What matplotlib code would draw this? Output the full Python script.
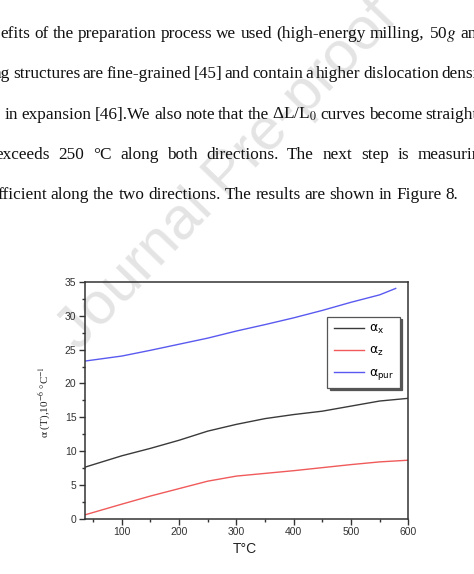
import matplotlib
matplotlib.use("Agg")
import matplotlib.pyplot as plt
from matplotlib.ticker import MultipleLocator

# ---------------- data ----------------
T = [35, 100, 150, 200, 250, 300, 350, 400, 450, 500, 550, 600]
alpha_x = [7.6, 9.3, 10.4, 11.6, 12.95, 13.95, 14.8, 15.4, 15.9, 16.65, 17.4, 17.8]
alpha_z = [0.55, 2.15, 3.35, 4.45, 5.55, 6.3, 6.7, 7.1, 7.55, 8.0, 8.4, 8.65]
T_pur = [35, 100, 150, 200, 250, 300, 350, 400, 450, 500, 550, 578]
alpha_pur = [23.3, 24.05, 24.9, 25.8, 26.7, 27.75, 28.7, 29.7, 30.8, 32.0, 33.1, 34.05]
labels = [r'$\mathrm{\alpha}_\mathrm{x}$', r'$\mathrm{\alpha}_\mathrm{z}$', r'$\mathrm{\alpha}_\mathrm{pur}$']
x_ticks = [100, 200, 300, 400, 500, 600]
y_ticks = [0, 5, 10, 15, 20, 25, 30, 35]

# (line text, left x of first word, index of anchor word, right x of anchor word, baseline y)
paragraph = [
    (r"efits of the preparation process we used (high-energy milling, 50$g$ and", 0, 9, 456, 38),
    ("ng structures are fine-grained [45] and contain a higher dislocation density", -7.0, 9, 439, 78),
    (r"in expansion [46].We also note that the ΔL/L$_0$ curves become straight", 5, 9, 422, 119),
    ("exceeds 250 °C along both directions. The next step is measuring the", -4.5, 9, 409, 159),
    ("fficient along the two directions. The results are shown in Figure 8.", -3, 11, 458, 199),
]

W, H = 474, 574
fig = plt.figure(figsize=(W / 100, H / 100), dpi=100)
fig.patch.set_facecolor("white")

# watermark
fig.text(228 / W, 1 - 175 / H, "Journal Pre-proof", rotation=46, rotation_mode="anchor",
         ha="center", va="center", fontsize=43, color="#e4e4e4",
         family="Liberation Sans", zorder=-5)

# paragraph text (justified)
renderer = fig.canvas.get_renderer()
FS = 12.4
def put_line(text, xl, anchor_idx, xr, yb):
    words = text.split(" ")
    arts = []
    widths = []
    for w in words:
        t = fig.text(0, 0, w, fontsize=FS, family="Liberation Serif",
                     math_fontfamily="stix", va="baseline", ha="left", color="#111111")
        arts.append(t)
        widths.append(t.get_window_extent(renderer).width)
    n = min(anchor_idx, len(words) - 1)
    gap = (xr - xl - sum(widths[:n + 1])) / max(n, 1)
    x = xl
    for t, w in zip(arts, widths):
        t.set_position((x / W, 1 - yb / H))
        x += w + gap

for text, xl, idx, xr, yb in paragraph:
    put_line(text, xl, idx, xr, yb)

# ---------------- chart ----------------
left, right, top, bottom = 84.7, 408.3, 282, 518.7
ax = fig.add_axes([left / W, 1 - bottom / H, (right - left) / W, (bottom - top) / H])
ax.set_facecolor("none")

ax.plot(T, alpha_x, color="#3a3a3a", lw=1.0, label=labels[0])
ax.plot(T, alpha_z, color="#f05a5a", lw=1.0, label=labels[1])
ax.plot(T_pur, alpha_pur, color="#5a5af0", lw=1.0, label=labels[2])

ax.set_xlim(35.3, 600)
ax.set_ylim(0, 35)
ax.set_xticks(x_ticks)
ax.set_yticks(y_ticks)
ax.xaxis.set_minor_locator(MultipleLocator(50))
ax.yaxis.set_minor_locator(MultipleLocator(2.5))
ax.tick_params(which="both", direction="out", top=False, right=False,
               colors="#333333", labelsize=7.5, width=1.0)
ax.tick_params(which="major", length=4, pad=2)
ax.tick_params(which="minor", length=2.5)
for lab in ax.get_xticklabels() + ax.get_yticklabels():
    lab.set_family("Liberation Sans")
for s in ax.spines.values():
    s.set_color("#333333")
    s.set_linewidth(1.1)

leg = ax.legend(loc="upper right",
                bbox_to_anchor=((400 - left) / (right - left), (bottom - 317) / (bottom - top)),
                borderaxespad=0, fancybox=False,
                shadow={"color": "#555555", "alpha": 1, "ox": 1.5, "oy": -1.5},
                edgecolor="#555555", framealpha=1, handlelength=2.4,
                labelspacing=0.7, handletextpad=0.4, borderpad=0.5,
                prop={"family": "Liberation Sans", "size": 9, "math_fontfamily": "dejavusans"})
leg.get_frame().set_linewidth(0.9)

fig.text(245 / W, 1 - 549 / H, "T°C", ha="center", va="center", fontsize=10,
         family="Liberation Sans", color="#222222")
fig.text(45 / W, 1 - 402 / H, r"$\mathrm{\alpha}$ (T),10$^{-6}$ °C$^{-1}$", rotation=90,
         ha="center", va="center", fontsize=8, family="Liberation Serif",
         math_fontfamily="stix", color="#222222")

fig.savefig("out.png", dpi=100)
